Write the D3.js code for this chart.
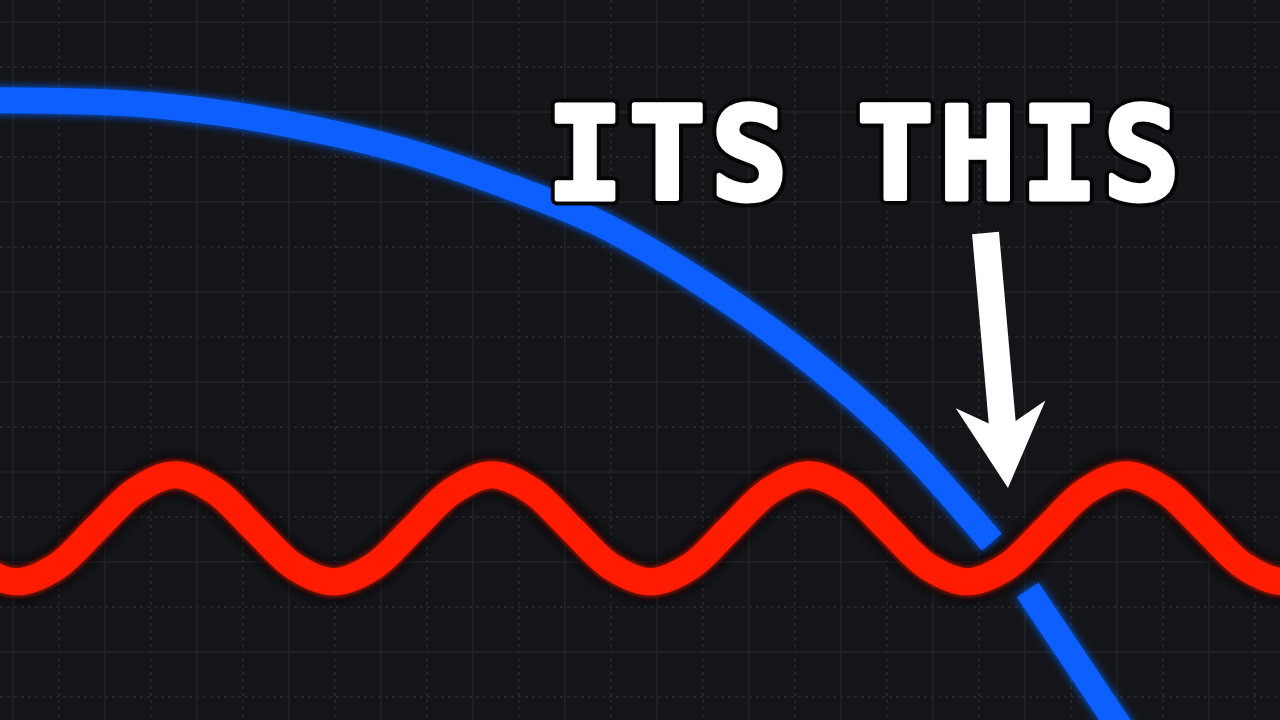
<!DOCTYPE html>
<html>
<head>
<meta charset="utf-8">
<script src="https://cdn.jsdelivr.net/npm/d3@7/dist/d3.min.js"></script>
<style>
  html, body { margin: 0; padding: 0; background: #141519; overflow: hidden; }
  svg { display: block; }
</style>
</head>
<body>
<svg id="chart" width="1280" height="720"></svg>
<script>
// ---- data (grid units: one major grid cell = 1 unit) ----
const xDomain = [-0.1413, 13.7717];
const yDomain = [-0.7556, 7.2444];

const xMajor = [-1, 0, 1, 2, 3, 4, 5, 6, 7, 8, 9, 10, 11, 12, 13, 14];
const yMajor = [-1, 0, 1, 2, 3, 4, 5, 6, 7, 8];

// blue falling curve (null = gap where it passes under the red wave)
const blueX = [-0.47, -0.14, 0.95, 2.03, 3.12, 4.21, 5.29, 6.38, 7.47, 8.55, 9.64, 10.64, null, 11.03, 11.98, 12.14];
const blueY = [6.13, 6.13, 6.11, 6.02, 5.84, 5.58, 5.21, 4.76, 4.11, 3.33, 2.36, 1.22, null, 0.69, -0.76, -1.00];

// red wave
const redX = [-1.678, -1.248, -0.817, -0.387, 0.043, 0.474, 0.904, 1.335, 1.765, 2.196, 2.626, 3.057,
              3.487, 3.917, 4.348, 4.778, 5.209, 5.639, 6.070, 6.500, 6.930, 7.361, 7.791, 8.222,
              8.652, 9.083, 9.513, 9.943, 10.374, 10.804, 11.235, 11.665, 12.096, 12.526, 12.957,
              13.387, 13.817, 14.248, 14.678];
const redY = [1.97, 1.79, 1.37, 0.95, 0.78, 0.95, 1.37, 1.79, 1.97, 1.79, 1.37, 0.95,
              0.78, 0.95, 1.37, 1.79, 1.97, 1.79, 1.37, 0.95, 0.78, 0.95, 1.37, 1.79,
              1.97, 1.79, 1.37, 0.95, 0.78, 0.95, 1.37, 1.79, 1.97, 1.79, 1.37,
              0.95, 0.78, 0.95, 1.37];

const titleText = "ITS THIS";
const titlePos = [5.80, 5.03];
const arrowTail = [10.571, 4.656];
const arrowTip = [10.815, 1.822];

// ---- drawing ----
const W = 1280, H = 720;
const svg = d3.select("#chart");
const x = d3.scaleLinear().domain(xDomain).range([0, W]);
const y = d3.scaleLinear().domain(yDomain).range([H, 0]);

const defs = svg.append("defs");
const glow = (id, sd) => {
  const f = defs.append("filter").attr("id", id)
    .attr("x", "-10%").attr("y", "-20%").attr("width", "120%").attr("height", "140%");
  f.append("feGaussianBlur").attr("in", "SourceGraphic").attr("stdDeviation", sd).attr("result", "b");
  const m = f.append("feMerge");
  m.append("feMergeNode").attr("in", "b");
  m.append("feMergeNode").attr("in", "SourceGraphic");
};
glow("blueGlow", 4);
glow("redGlow", 3);
defs.append("filter").attr("id", "shadow")
  .attr("x", "-10%").attr("y", "-30%").attr("width", "120%").attr("height", "160%")
  .append("feGaussianBlur").attr("stdDeviation", 5);

svg.append("rect").attr("width", W).attr("height", H).attr("fill", "#141519");

// grid
const g = svg.append("g");
const xMinor = xMajor.map(v => v + 0.5);
const yMinor = yMajor.map(v => v + 0.5);
g.selectAll(".vmin").data(xMinor).join("line")
  .attr("x1", d => x(d)).attr("x2", d => x(d)).attr("y1", 0).attr("y2", H)
  .attr("stroke", "#2a2b30").attr("stroke-width", 1.5).attr("stroke-dasharray", "3 4");
g.selectAll(".hmin").data(yMinor).join("line")
  .attr("y1", d => y(d)).attr("y2", d => y(d)).attr("x1", 0).attr("x2", W)
  .attr("stroke", "#2a2b30").attr("stroke-width", 1.5).attr("stroke-dasharray", "3 4");
g.selectAll(".vmaj").data(xMajor).join("line")
  .attr("x1", d => x(d)).attr("x2", d => x(d)).attr("y1", 0).attr("y2", H)
  .attr("stroke", "#232429").attr("stroke-width", 1.5);
g.selectAll(".hmaj").data(yMajor).join("line")
  .attr("y1", d => y(d)).attr("y2", d => y(d)).attr("x1", 0).attr("x2", W)
  .attr("stroke", "#232429").attr("stroke-width", 1.5);

// blue curve
const bluePts = blueX.map((v, i) => ({ x: v, y: blueY[i] }));
const blueLine = d3.line()
  .defined(d => d.x !== null && d.y !== null)
  .x(d => x(d.x)).y(d => y(d.y))
  .curve(d3.curveMonotoneX);
svg.append("path").attr("d", blueLine(bluePts))
  .attr("fill", "none").attr("stroke", "#0b5eff").attr("stroke-width", 26)
  .attr("stroke-linecap", "butt").attr("filter", "url(#blueGlow)");

// red wave
const redPts = redX.map((v, i) => ({ x: v, y: redY[i] }));
const redLine = d3.line().x(d => x(d.x)).y(d => y(d.y)).curve(d3.curveCatmullRom.alpha(0.5));
svg.append("path").attr("d", redLine(redPts))
  .attr("fill", "none").attr("stroke", "#000").attr("stroke-opacity", 0.6)
  .attr("stroke-width", 42).attr("filter", "url(#shadow)");
svg.append("path").attr("d", redLine(redPts))
  .attr("fill", "none").attr("stroke", "#ff1c00").attr("stroke-width", 27)
  .attr("filter", "url(#redGlow)");

// title text (dark outline layer, then heavy white layer)
const addTitle = (stroke, sw) => svg.append("text")
  .attr("x", x(titlePos[0])).attr("y", y(titlePos[1]))
  .attr("font-family", "'DejaVu Sans Mono', monospace")
  .attr("font-weight", "bold").attr("font-size", 128)
  .attr("letter-spacing", 5).attr("word-spacing", -18)
  .attr("fill", "#ffffff").attr("stroke", stroke).attr("stroke-width", sw)
  .attr("stroke-linejoin", "round").attr("paint-order", "stroke")
  .text(titleText);
addTitle("#050506", 13);
addTitle("#ffffff", 5);

// arrow
const tx = x(arrowTail[0]), ty = y(arrowTail[1]);
const px = x(arrowTip[0]), py = y(arrowTip[1]);
const len = Math.hypot(px - tx, py - ty);
const dx = (px - tx) / len, dy = (py - ty) / len;
const nx = -dy, ny = dx;
const sw = 13.5, hw = 45, hl = 84, join = 66;
const P = (bx, by, along, side) => [bx + dx * along + nx * side, by + dy * along + ny * side];
const arrowPoly = [
  P(tx, ty, 0, sw), P(px, py, -join, sw), P(px, py, -hl, hw), [px, py],
  P(px, py, -hl, -hw), P(px, py, -join, -sw), P(tx, ty, 0, -sw)
];
svg.append("path").attr("d", d3.line()(arrowPoly) + "Z").attr("fill", "#ffffff");
</script>
</body>
</html>
